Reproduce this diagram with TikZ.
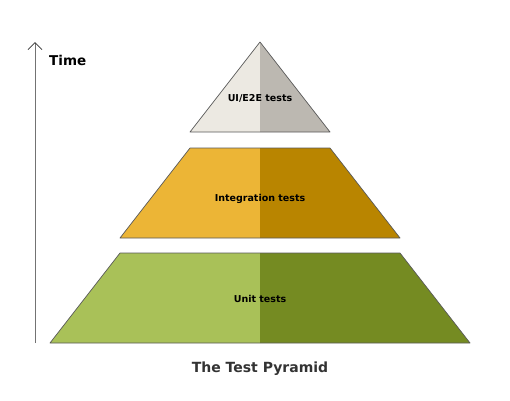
\documentclass[tikz,border=0pt]{standalone}
\usepackage{fontspec}
\setmainfont{DejaVu Sans}
\usetikzlibrary{arrows.meta}
\definecolor{topL}{HTML}{ECE9E2}
\definecolor{topR}{HTML}{BCB8B1}
\definecolor{midL}{HTML}{ECB536}
\definecolor{midR}{HTML}{B98500}
\definecolor{botL}{HTML}{A9C158}
\definecolor{botR}{HTML}{758B22}
\definecolor{titlegray}{HTML}{333333}
\tikzset{
  outline/.style={draw=black!65, line width=0.7pt, line join=round},
  lbl/.style={font=\bfseries\fontsize{9.5}{10}\selectfont, text=black, inner sep=0pt},
}
\begin{document}
\begin{tikzpicture}[x=1pt,y=-1pt]
\useasboundingbox (0,0) rectangle (510,400);
% top triangle
\fill[topL] (260,42) -- (190,132) -- (260,132) -- cycle;
\fill[topR] (260,42) -- (330,132) -- (260,132) -- cycle;
\draw[outline] (260,42) -- (190,132) -- (330,132) -- cycle;
% middle trapezoid
\fill[midL] (190,148) -- (260,148) -- (260,238) -- (120,238) -- cycle;
\fill[midR] (260,148) -- (330,148) -- (400,238) -- (260,238) -- cycle;
\draw[outline] (190,148) -- (330,148) -- (400,238) -- (120,238) -- cycle;
% bottom trapezoid
\fill[botL] (120,253) -- (260,253) -- (260,343) -- (50,343) -- cycle;
\fill[botR] (260,253) -- (400,253) -- (470,343) -- (260,343) -- cycle;
\draw[outline] (120,253) -- (400,253) -- (470,343) -- (50,343) -- cycle;
% labels
\node[lbl] (ui) at (260,98) {UI/E2E tests};
\node[lbl] (integ) at (260,198.5) {Integration tests};
\node[lbl] (unit) at (260,298.5) {Unit tests};
% time axis
\coordinate (t0) at (35,343);
\coordinate (t1) at (35,42);
\draw[draw=black!55, line width=0.8pt, -{Straight Barb[length=7pt,width=14pt,line width=0.8pt,color=black!80]}] (t0) -- (t1);
\node[font=\bfseries\fontsize{13.5}{15}\selectfont, anchor=west, inner sep=0pt] (time) at (49,60) {Time};
\node[font=\bfseries\fontsize{14}{16}\selectfont, text=titlegray, inner sep=0pt] (title) at (260,369) {The Test Pyramid};
\end{tikzpicture}
\end{document}
